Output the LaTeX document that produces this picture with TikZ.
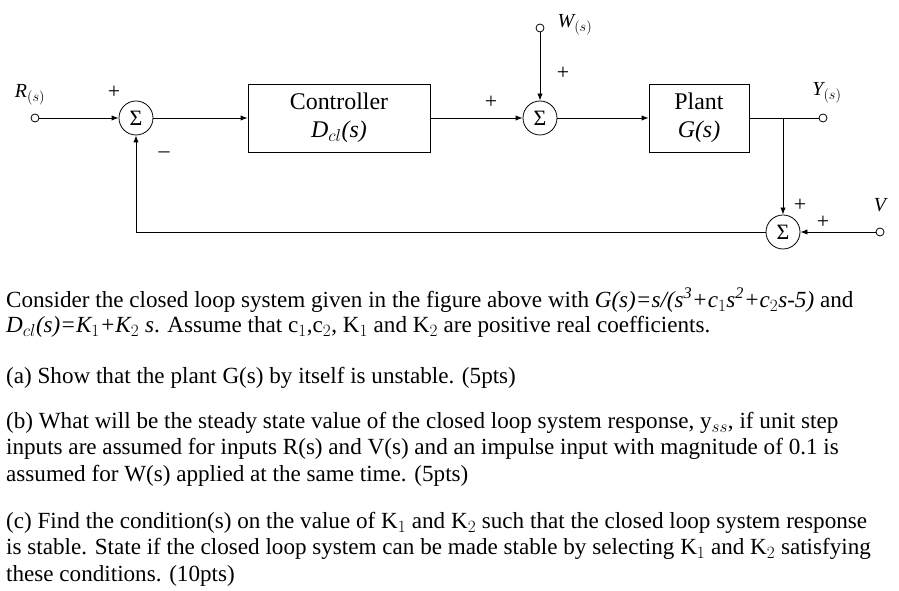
\documentclass[tikz,border=0pt]{standalone}
\usepackage{fontspec}
\setmainfont{Liberation Serif}
\usetikzlibrary{positioning,arrows.meta}
\tikzset{
  sum/.style={draw,circle,thick,minimum size=34bp,inner sep=0pt,font=\fontsize{22}{24}\selectfont},
  blk/.style={draw,rectangle,thick,minimum height=68bp,align=center,font=\fontsize{24}{28}\selectfont},
  term/.style={draw,circle,thick,minimum size=8bp,inner sep=0pt},
  sig/.style={-{Latex[length=7bp]},thick},
  lbl/.style={font=\fontsize{20}{22}\selectfont\itshape},
  pm/.style={font=\fontsize{22}{24}\selectfont},
  txt/.style={anchor=west,inner sep=0pt,font=\fontsize{23.2}{26}\selectfont},
}
\begin{document}
\begin{tikzpicture}[x=1bp,y=1bp]
\useasboundingbox (0,0) rectangle (899,591);
%% block diagram
\node (R) at (35,473) [term] {};
\node (S1) at (136,473) [sum] {Σ};
\node (Ctl) at (339,473) [blk,minimum width=182bp] {Controller\\ \textit{D}$_{cl}$\textit{(s)}};
\node (S2) at (540,473) [sum] {Σ};
\node (W) at (540,563) [term] {};
\node (Plt) at (699,473) [blk,minimum width=100bp] {Plant\\ \textit{G(s)}};
\coordinate (Br) at (783,473);
\node (Y) at (823,473) [term] {};
\node (S3) at (783,359) [sum] {Σ};
\node (V) at (880,359) [term] {};
\coordinate (Fb) at (136,359);
\draw [sig] (R) -- (S1);
\draw [sig] (S1) -- (Ctl);
\draw [sig] (Ctl) -- (S2);
\draw [sig] (W) -- (S2);
\draw [sig] (S2) -- (Plt);
\draw [thick] (Plt) -- (Y);
\draw [sig] (Br) -- (S3);
\draw [sig] (V) -- (S3);
\draw [thick] (S3) -- (Fb);
\draw [sig] (Fb) -- (S1);
%% signal labels and signs
\node [lbl] at (30,496) {R$_{(s)}$};
\node [lbl] at (575,566) {W$_{(s)}$};
\node [lbl] at (827,498) {Y$_{(s)}$};
\node [lbl] at (880,386) {V};
\node [pm] at (114,499) {+};
\node [pm] at (164,436) {--};
\node [pm] at (491,489) {+};
\node [pm] at (563,518) {+};
\node [pm] at (800,386) {+};
\node [pm] at (823,369) {+};
%% question text
\node [txt] at (6,291) {Consider the closed loop system given in the figure above with \textit{G(s)=s/(s\textsuperscript{3}+c$_1$s\textsuperscript{2}+c$_2$s-5)} and};
\node [txt] at (6,264) {\textit{D}$_{cl}$\textit{(s)=K$_1$+K$_2$ s}. Assume that c$_1$,c$_2$, K$_1$ and K$_2$ are positive real coefficients.};
\node [txt] at (6,213) {(a) Show that the plant G(s) by itself is unstable. (5pts)};
\node [txt] at (6,168) {(b) What will be the steady state value of the closed loop system response, y$_{ss}$, if unit step};
\node [txt] at (6,142) {inputs are assumed for inputs R(s) and V(s) and an impulse input with magnitude of 0.1 is};
\node [txt] at (6,115) {assumed for W(s) applied at the same time. (5pts)};
\node [txt] at (6,68) {(c) Find the condition(s) on the value of K$_1$ and K$_2$ such that the closed loop system response};
\node [txt] at (6,42) {is stable. State if the closed loop system can be made stable by selecting K$_1$ and K$_2$ satisfying};
\node [txt] at (6,15) {these conditions. (10pts)};
\end{tikzpicture}
\end{document}
